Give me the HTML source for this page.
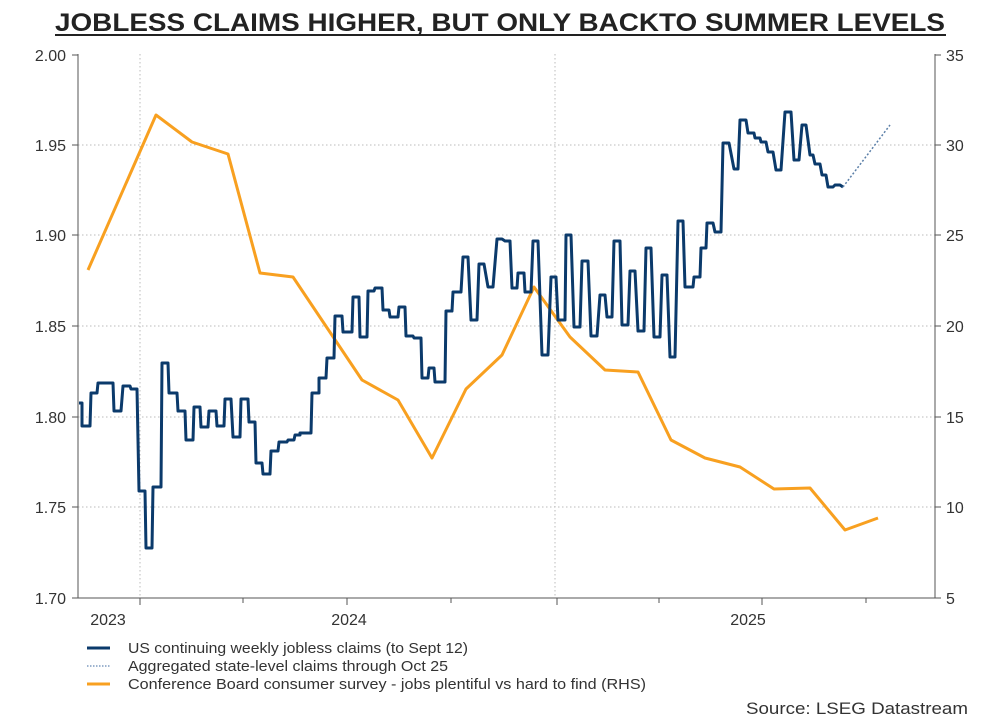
<!DOCTYPE html>
<html><head><meta charset="utf-8"><style>
body{margin:0;background:#fff;}
svg{display:block;font-family:"Liberation Sans",Arial,sans-serif;}
</style></head><body>
<svg width="1007" height="722" viewBox="0 0 1007 722">
<rect width="1007" height="722" fill="#fff"/>
<text x="500" y="31" text-anchor="middle" font-size="25" font-weight="bold" fill="#222" textLength="890" lengthAdjust="spacingAndGlyphs">JOBLESS CLAIMS HIGHER, BUT ONLY BACKTO SUMMER LEVELS</text>
<line x1="55" y1="35" x2="946" y2="35" stroke="#222" stroke-width="2"/>
<g stroke="#bbb" stroke-width="1" stroke-dasharray="1.5,2.5">
<line x1="78" y1="145" x2="935" y2="145"/><line x1="78" y1="235" x2="935" y2="235"/>
<line x1="78" y1="326" x2="935" y2="326"/><line x1="78" y1="417" x2="935" y2="417"/>
<line x1="78" y1="507" x2="935" y2="507"/>
<line x1="140" y1="54" x2="140" y2="598"/><line x1="555" y1="54" x2="555" y2="598"/>
</g>
<g stroke="#555" stroke-width="1" fill="none">
<line x1="78" y1="54" x2="78" y2="598"/><line x1="935" y1="54" x2="935" y2="598"/>
<line x1="78" y1="598" x2="935" y2="598"/>
</g>
<g stroke="#555" stroke-width="1">
<line x1="72" y1="55" x2="78" y2="55"/><line x1="72" y1="145" x2="78" y2="145"/><line x1="72" y1="235" x2="78" y2="235"/><line x1="72" y1="326" x2="78" y2="326"/><line x1="72" y1="417" x2="78" y2="417"/><line x1="72" y1="507" x2="78" y2="507"/><line x1="72" y1="598" x2="78" y2="598"/>
<line x1="935" y1="55" x2="941" y2="55"/><line x1="935" y1="145" x2="941" y2="145"/><line x1="935" y1="235" x2="941" y2="235"/><line x1="935" y1="326" x2="941" y2="326"/><line x1="935" y1="417" x2="941" y2="417"/><line x1="935" y1="507" x2="941" y2="507"/><line x1="935" y1="598" x2="941" y2="598"/>
<line x1="140" y1="598" x2="140" y2="605"/><line x1="243" y1="598" x2="243" y2="603"/><line x1="347" y1="598" x2="347" y2="605"/><line x1="451" y1="598" x2="451" y2="603"/><line x1="557" y1="598" x2="557" y2="605"/><line x1="659" y1="598" x2="659" y2="603"/><line x1="762" y1="598" x2="762" y2="605"/><line x1="866" y1="598" x2="866" y2="603"/>
</g>
<g font-size="16" fill="#333" text-anchor="end">
<text x="66" y="61">2.00</text><text x="66" y="151">1.95</text><text x="66" y="241">1.90</text><text x="66" y="332">1.85</text><text x="66" y="423">1.80</text><text x="66" y="513">1.75</text><text x="66" y="604">1.70</text>
</g>
<g font-size="16" fill="#333">
<text x="946" y="61">35</text><text x="946" y="151">30</text><text x="946" y="241">25</text><text x="946" y="332">20</text><text x="946" y="423">15</text><text x="946" y="513">10</text><text x="946" y="604">5</text>
</g>
<g font-size="16" fill="#333" text-anchor="middle">
<text x="108" y="625">2023</text><text x="349" y="625">2024</text><text x="748" y="625">2025</text>
</g>
<polyline fill="none" stroke="#f8a020" stroke-width="3" stroke-linejoin="round" points="88,270 156,115 192,142 228,154 260,273 293,277 362,380 398,400 432,458 466,389 502,355 534,287 570,337 605,370 638,372 671,440 705,458 740,467 774,489 810,488 845,530 878,518"/>
<polyline fill="none" stroke="#0b3a6b" stroke-width="3" stroke-linejoin="round" points="79,403 82,403 82,426 90,426 91,393 97,393 98,383 113,383 114,411 121,411 123,386 130,386 131,389 137,389 139,491 145,491 146,548 152,548 153,487 161,487 162,363 168,363 169,393 177,393 178,411 185,411 186,440 193,440 194,407 200,407 201,427 208,427 209,411 216,411 217,426 224,426 225,399 231,399 233,437 240,437 241,399 248,399 249,422 255,422 256,463 262,463 263,474 270,474 271,451 278,451 279,442 287,442 288,440 294,440 295,435 300,435 300,433 311,433 312,393 319,393 319,378 326,378 327,358 334,358 335,316 342,316 343,332 352,332 353,297 359,297 360,337 367,337 368,291 374,291 375,288 382,288 383,310 389,310 390,317 398,317 399,307 405,307 406,336 413,336 414,338 421,338 422,378 428,378 429,368 434,368 435,382 445,382 446,311 452,311 453,292 461,292 463,257 468,257 471,320 477,320 479,264 484,264 488,287 493,287 497,239 502,239 505,241 510,241 512,288 517,288 518,273 524,273 525,292 531,292 533,241 538,241 542,355 548,355 551,277 556,277 558,320 565,320 566,235 571,235 574,327 580,327 582,261 588,261 591,336 597,336 600,295 605,295 607,317 612,317 614,241 620,241 622,325 628,325 630,271 635,271 638,331 644,331 646,248 651,248 654,337 660,337 662,275 667,275 670,357 675,357 678,221 683,221 685,287 693,287 694,277 700,277 701,248 706,248 707,223 713,223 715,232 721,232 723,143 729,143 734,169 738,169 740,120 746,120 748,133 754,133 755,138 760,138 761,142 766,142 768,152 773,152 776,170 781,170 785,112 791,112 794,160 799,160 802,125 806,125 810,155 813,155 815,164 820,164 822,175 826,175 828,187 833,187 835,185 840,185 843,187"/>
<polyline fill="none" stroke="#5b7fa8" stroke-width="1.5" stroke-dasharray="2,2" points="843,187 890,125"/>
<g font-size="14.5" fill="#333">
<line x1="87" y1="648" x2="110" y2="648" stroke="#0b3a6b" stroke-width="3"/>
<text x="128" y="653" textLength="340" lengthAdjust="spacingAndGlyphs">US continuing weekly jobless claims (to Sept 12)</text>
<line x1="87" y1="666" x2="110" y2="666" stroke="#7f9cc0" stroke-width="1.5" stroke-dasharray="1.5,1.5"/>
<text x="128" y="671" textLength="320" lengthAdjust="spacingAndGlyphs">Aggregated state-level claims through Oct 25</text>
<line x1="87" y1="684" x2="110" y2="684" stroke="#f8a020" stroke-width="3"/>
<text x="128" y="689" textLength="518" lengthAdjust="spacingAndGlyphs">Conference Board consumer survey - jobs plentiful vs hard to find (RHS)</text>
</g>
<text x="968" y="714" font-size="17" fill="#333" text-anchor="end" textLength="222" lengthAdjust="spacingAndGlyphs">Source: LSEG Datastream</text>
</svg>
</body></html>
